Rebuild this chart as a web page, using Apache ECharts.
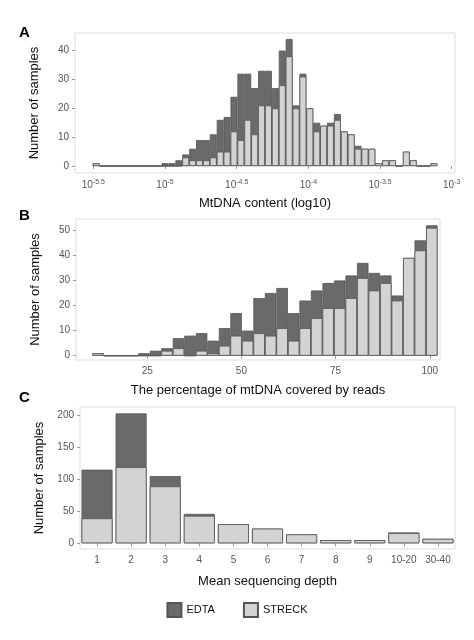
<!DOCTYPE html>
<html><head><meta charset="utf-8">
<script src="https://cdn.jsdelivr.net/npm/echarts@6/dist/echarts.min.js"></script>
<style>html,body{margin:0;padding:0;background:#fff}#c{width:474px;height:640px}</style>
</head><body><div id="c"></div>
<script>
// Panel A: log10 MtDNA content bins
const aBinStart = -5.505, aBinWidth = 0.0481;
const aStreck = [1,0,0,0,0,0,0,0,0,0, 0,0,0,3,2,2,2,3,5,5, 12,9,16,11,21,21,20,28,38,20, 31,20,12,14,14,16,12,11,6,6, 6,1,2,2,0,5,2,0,0,1];
const aEdta   = [0,0,0,0,0,0,0,0,0,0, 1,1,2,1,4,7,7,8,11,12, 12,23,16,16,12,12,7,12,6,1, 1,0,3,0,1,2,0,0,1,0, 0,0,0,0,0,0,0,0,0,0];
const aTicks = [-5.5,-5,-4.5,-4,-3.5,-3];
// Panel B: percentage covered
const bBinStart = 10.4, bBinWidth = 3.055;
const bStreck = [1,0,0,0,0,0,2,3,0,2, 1,4,8,6,9,8,11,6,11,15, 19,19,23,31,26,29,22,39,42,51];
const bEdta   = [0,0,0,0,1,2,1,4,8,7, 5,7,9,4,14,17,16,11,11,11, 10,11,9,6,7,3,2,0,4,1];
const bTicks = [25,50,75,100];
// Panel C: mean sequencing depth
const cCats = ['1','2','3','4','5','6','7','8','9','10-20','30-40'];
const cStreck = [39,119,89,43,30,23,14,5,5,16,7];
const cEdta   = [76,84,16,3,0,0,0,0,0,1,0];
const yTicksA = [0,10,20,30,40], yTicksB = [0,10,20,30,40,50], yTicksC = [0,50,100,150,200];

const aX = aStreck.map((_, i) => +(aBinStart + aBinWidth * (i + 0.5)).toFixed(4));
const bX = bStreck.map((_, i) => +(bBinStart + bBinWidth * (i + 0.5)).toFixed(3));
const EDTA = '#6a6a6a', STRECK = '#d3d3d3', EDGE = '#555';
const tickLbl = {color:'#555', fontSize:10, fontFamily:'Liberation Sans'};
const nameStyle = {color:'#111', fontSize:13, fontFamily:'Liberation Sans'};
function yAxis(gi, min, max, ticks){
  return {type:'value', gridIndex:gi, min, max, name:'Number of samples', nameLocation:'middle', nameGap:34, nameTextStyle:nameStyle,
    axisLine:{show:false}, splitLine:{show:false},
    axisTick:{show:true, length:3, lineStyle:{color:'#999'}, customValues:ticks},
    axisLabel:Object.assign({customValues:ticks, margin:6}, tickLbl)};
}
const chart = echarts.init(document.getElementById('c'), null, {renderer:'canvas'});
const gridBase = {show:true, borderColor:'#ddd', borderWidth:1, backgroundColor:'#fff'};
function barSer(name, xi, data, color, extra){
  return Object.assign({name, type:'bar', xAxisIndex:xi, yAxisIndex:xi, data, barGap:'-100%', itemStyle:{color, borderColor:EDGE, borderWidth:0.8}}, extra);
}
const tot = (e, s) => e.map((v, i) => v + s[i]);
const aTot = tot(aEdta, aStreck), bTot = tot(bEdta, bStreck), cTot = tot(cEdta, cStreck);
chart.setOption({
  animation:false,
  textStyle:{fontFamily:'Liberation Sans'},
  title:[
    {text:'A', left:14, top:20, textStyle:{fontSize:15, fontWeight:'bold', color:'#000'}},
    {text:'B', left:14, top:203, textStyle:{fontSize:15, fontWeight:'bold', color:'#000'}},
    {text:'C', left:14, top:385, textStyle:{fontSize:15, fontWeight:'bold', color:'#000'}}
  ],
  legend:{bottom:17, left:'center', icon:'rect', itemWidth:14, itemHeight:14, itemGap:28, textStyle:{fontSize:11, color:'#111'},
    data:[{name:'EDTA', itemStyle:{color:EDTA, borderColor:EDGE}}, {name:'STRECK', itemStyle:{color:STRECK, borderColor:EDGE}}]},
  grid:[
    Object.assign({left:75, top:33, width:380, height:140}, gridBase),
    Object.assign({left:76, top:219, width:364, height:141}, gridBase),
    Object.assign({left:80, top:407, width:375, height:142}, gridBase)
  ],
  xAxis:[
    {type:'value', gridIndex:0, min:-5.628, max:-2.977, name:'MtDNA content (log10)', nameLocation:'middle', nameGap:24, nameTextStyle:nameStyle,
      axisLine:{show:false}, splitLine:{show:false},
      axisTick:{show:true, length:3, lineStyle:{color:'#999'}, customValues:aTicks},
      axisLabel:Object.assign({customValues:aTicks, margin:6, formatter:v=>'10{s|'+v+'}', rich:{s:{fontSize:7, verticalAlign:'top', color:'#555', padding:[0,0,6,0]}}}, tickLbl)},
    {type:'value', gridIndex:1, min:6.1, max:102.7, name:'The percentage of mtDNA covered by reads', nameLocation:'middle', nameGap:24, nameTextStyle:nameStyle,
      axisLine:{show:false}, splitLine:{show:false},
      axisTick:{show:true, length:3, lineStyle:{color:'#999'}, customValues:bTicks},
      axisLabel:Object.assign({customValues:bTicks, margin:6}, tickLbl)},
    {type:'category', gridIndex:2, data:cCats, name:'Mean sequencing depth', nameLocation:'middle', nameGap:26, nameTextStyle:nameStyle,
      axisLine:{show:false}, axisTick:{show:true, alignWithLabel:true, length:3, lineStyle:{color:'#999'}},
      axisLabel:Object.assign({margin:6, interval:0}, tickLbl)}
  ],
  yAxis:[yAxis(0,-2.4,46.1,yTicksA), yAxis(1,-1.7,54.5,yTicksB), yAxis(2,-8.9,213,yTicksC)],
  series:[
    barSer('EDTA',0,aX.map((x,i)=>[x,aTot[i]]),EDTA,{barWidth:6.9}),
    barSer('STRECK',0,aX.map((x,i)=>[x,aStreck[i]]),STRECK,{barWidth:6.9}),
    barSer('EDTA',1,bX.map((x,i)=>[x,bTot[i]]),EDTA,{barWidth:11.5}),
    barSer('STRECK',1,bX.map((x,i)=>[x,bStreck[i]]),STRECK,{barWidth:11.5}),
    barSer('EDTA',2,cTot,EDTA,{barCategoryGap:'9%'}),
    barSer('STRECK',2,cStreck,STRECK,{barCategoryGap:'9%'})
  ]
});
</script></body></html>
